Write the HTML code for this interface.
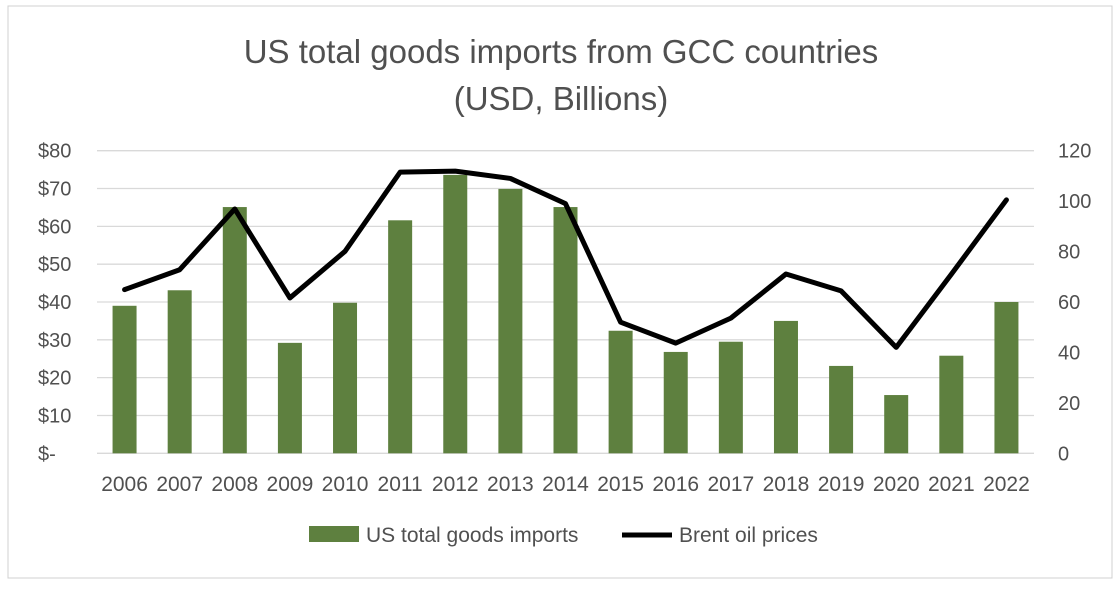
<!DOCTYPE html>
<html><head><meta charset="utf-8"><style>
body{margin:0;background:#fff;font-family:"Liberation Sans",sans-serif}
svg text{font-family:"Liberation Sans",sans-serif;fill:#505050}
</style></head><body>
<svg id="c" width="1120" height="586">
<rect x="8" y="6" width="1104" height="572" fill="#fff" stroke="#d0d0d0"/>
<text x="561" y="63" font-size="33" text-anchor="middle">US total goods imports from GCC countries</text>
<text x="561" y="110" font-size="33" text-anchor="middle">(USD, Billions)</text>
<g id="g"></g>
<g>
<rect x="309" y="526" width="50" height="16" fill="#5e803f"/>
<text x="366" y="542" font-size="21">US total goods imports</text>
<line x1="622" y1="535" x2="672" y2="535" stroke="#000" stroke-width="5"/>
<text x="679" y="542" font-size="21">Brent oil prices</text>
</g>
</svg>
<script>
const years=["2006","2007","2008","2009","2010","2011","2012","2013","2014","2015","2016","2017","2018","2019","2020","2021","2022"];
const imports=[39,43.1,65.1,29.2,39.8,61.6,73.6,69.9,65.1,32.4,26.8,29.5,35,23.1,15.4,25.8,40];
const brent=[64.9,72.8,96.9,61.6,80.1,111.5,111.9,109,99,52,43.7,53.6,71.1,64.4,42,71,100.5];
const leftTicks=["$-","$10","$20","$30","$40","$50","$60","$70","$80"];
const rightTicks=["0","20","40","60","80","100","120"];
const NS="http://www.w3.org/2000/svg",g=document.getElementById('g');
const x0=97,x1=1034,yb=453.3,yt=150.7;
const step=(x1-x0)/years.length;
const xc=i=>x0+step*(i+0.5);
const yL=v=>yb-(v/80)*(yb-yt);
const yR=v=>yb-(v/120)*(yb-yt);
function mk(t,a){const e=document.createElementNS(NS,t);for(const k in a)e.setAttribute(k,a[k]);g.appendChild(e);return e;}
leftTicks.forEach((t,i)=>{const y=yL(i*10);
const l=mk('line',{x1:x0,x2:x1,y1:y,y2:y,stroke:'#d9d9d9','stroke-width':1.3});


const tx=mk('text',{x:38,y:y+7,'font-size':20});tx.textContent=t;

});
rightTicks.forEach((t,i)=>{const y=yR(i*20);
const tx=mk('text',{x:1058,y:y+7,'font-size':20});tx.textContent=t;

});
years.forEach((yv,i)=>{
const r=mk('rect',{x:xc(i)-12,y:yL(imports[i]),width:24,height:yb-yL(imports[i]),fill:'#5e803f'});


const tx=mk('text',{x:xc(i),y:491,'font-size':21,'text-anchor':'middle'});tx.textContent=yv;

});
const p=mk('polyline',{points:brent.map((v,i)=>xc(i)+','+yR(v)).join(' '),fill:'none',stroke:'#000','stroke-width':5,'stroke-linejoin':'round','stroke-linecap':'round'});


</script>
</body></html>
